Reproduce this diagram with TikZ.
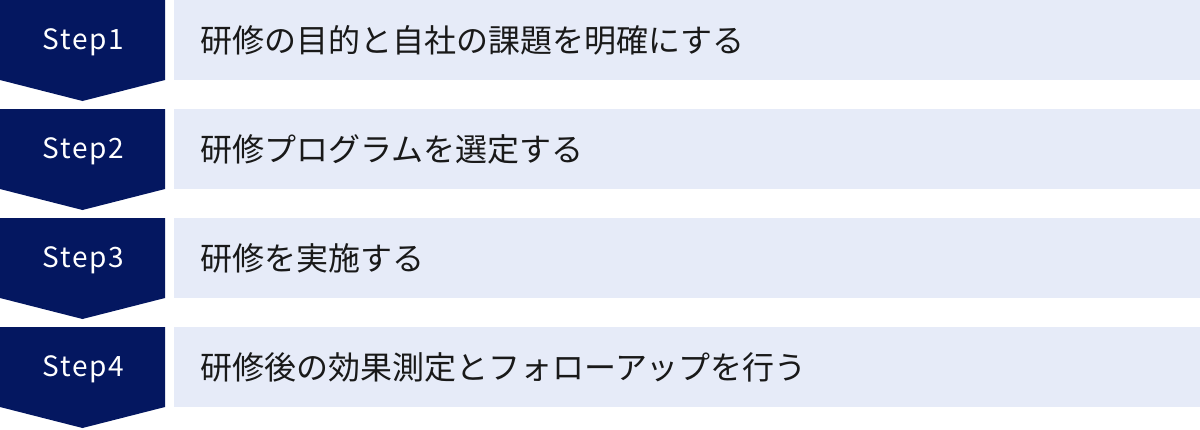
\documentclass[tikz,border=0pt]{standalone}
\usepackage{fontspec}
\setmainfont{Noto Sans CJK JP}
\usepackage{tikz}
\usetikzlibrary{shapes,arrows}

\definecolor{navy}{RGB}{4,23,96}
\definecolor{paleblue}{RGB}{230,235,248}

\begin{document}
\begin{tikzpicture}[x=0.75pt,y=0.75pt,yscale=-1,xscale=1]
    \path[use as bounding box] (0,0) rectangle (1200,429);
    \tikzset{stepname/.style={text=white,inner sep=0.75pt,font=\fontsize{21}{25}\selectfont\addfontfeatures{LetterSpace=6}},
             steptext/.style={anchor=west,text=black!90,inner sep=0.75pt,font=\fontsize{24}{29}\selectfont}}

    %Step Arrow 1
    \draw  [draw=none,fill=navy] (0,0) -- (165,0) -- (165,80) -- (82.5,101) -- (0,80) -- cycle ;
    %Text Box 1
    \draw  [draw=none,fill=paleblue] (174,0) rectangle (1200,80) ;
    %Step Arrow 2
    \draw  [draw=none,fill=navy] (0,109) -- (165,109) -- (165,189) -- (82.5,210) -- (0,189) -- cycle ;
    %Text Box 2
    \draw  [draw=none,fill=paleblue] (174,109) rectangle (1200,189) ;
    %Step Arrow 3
    \draw  [draw=none,fill=navy] (0,218) -- (165,218) -- (165,298) -- (82.5,319) -- (0,298) -- cycle ;
    %Text Box 3
    \draw  [draw=none,fill=paleblue] (174,218) rectangle (1200,298) ;
    %Step Arrow 4
    \draw  [draw=none,fill=navy] (0,327) -- (165,327) -- (165,407) -- (82.5,428) -- (0,407) -- cycle ;
    %Text Box 4
    \draw  [draw=none,fill=paleblue] (174,327) rectangle (1200,407) ;

    % Text Node
    \node [stepname] (step1) at (83.5,42) {Step1};
    % Text Node
    \node [steptext] (task1) at (199,40) {研修の目的と自社の課題を明確にする};
    % Text Node
    \node [stepname] (step2) at (83.5,151) {Step2};
    % Text Node
    \node [steptext] (task2) at (199,149) {研修プログラムを選定する};
    % Text Node
    \node [stepname] (step3) at (83.5,260) {Step3};
    % Text Node
    \node [steptext] (task3) at (199,258) {研修を実施する};
    % Text Node
    \node [stepname] (step4) at (83.5,369) {Step4};
    % Text Node
    \node [steptext] (task4) at (199,367) {研修後の効果測定とフォローアップを行う};

\end{tikzpicture}
\end{document}
